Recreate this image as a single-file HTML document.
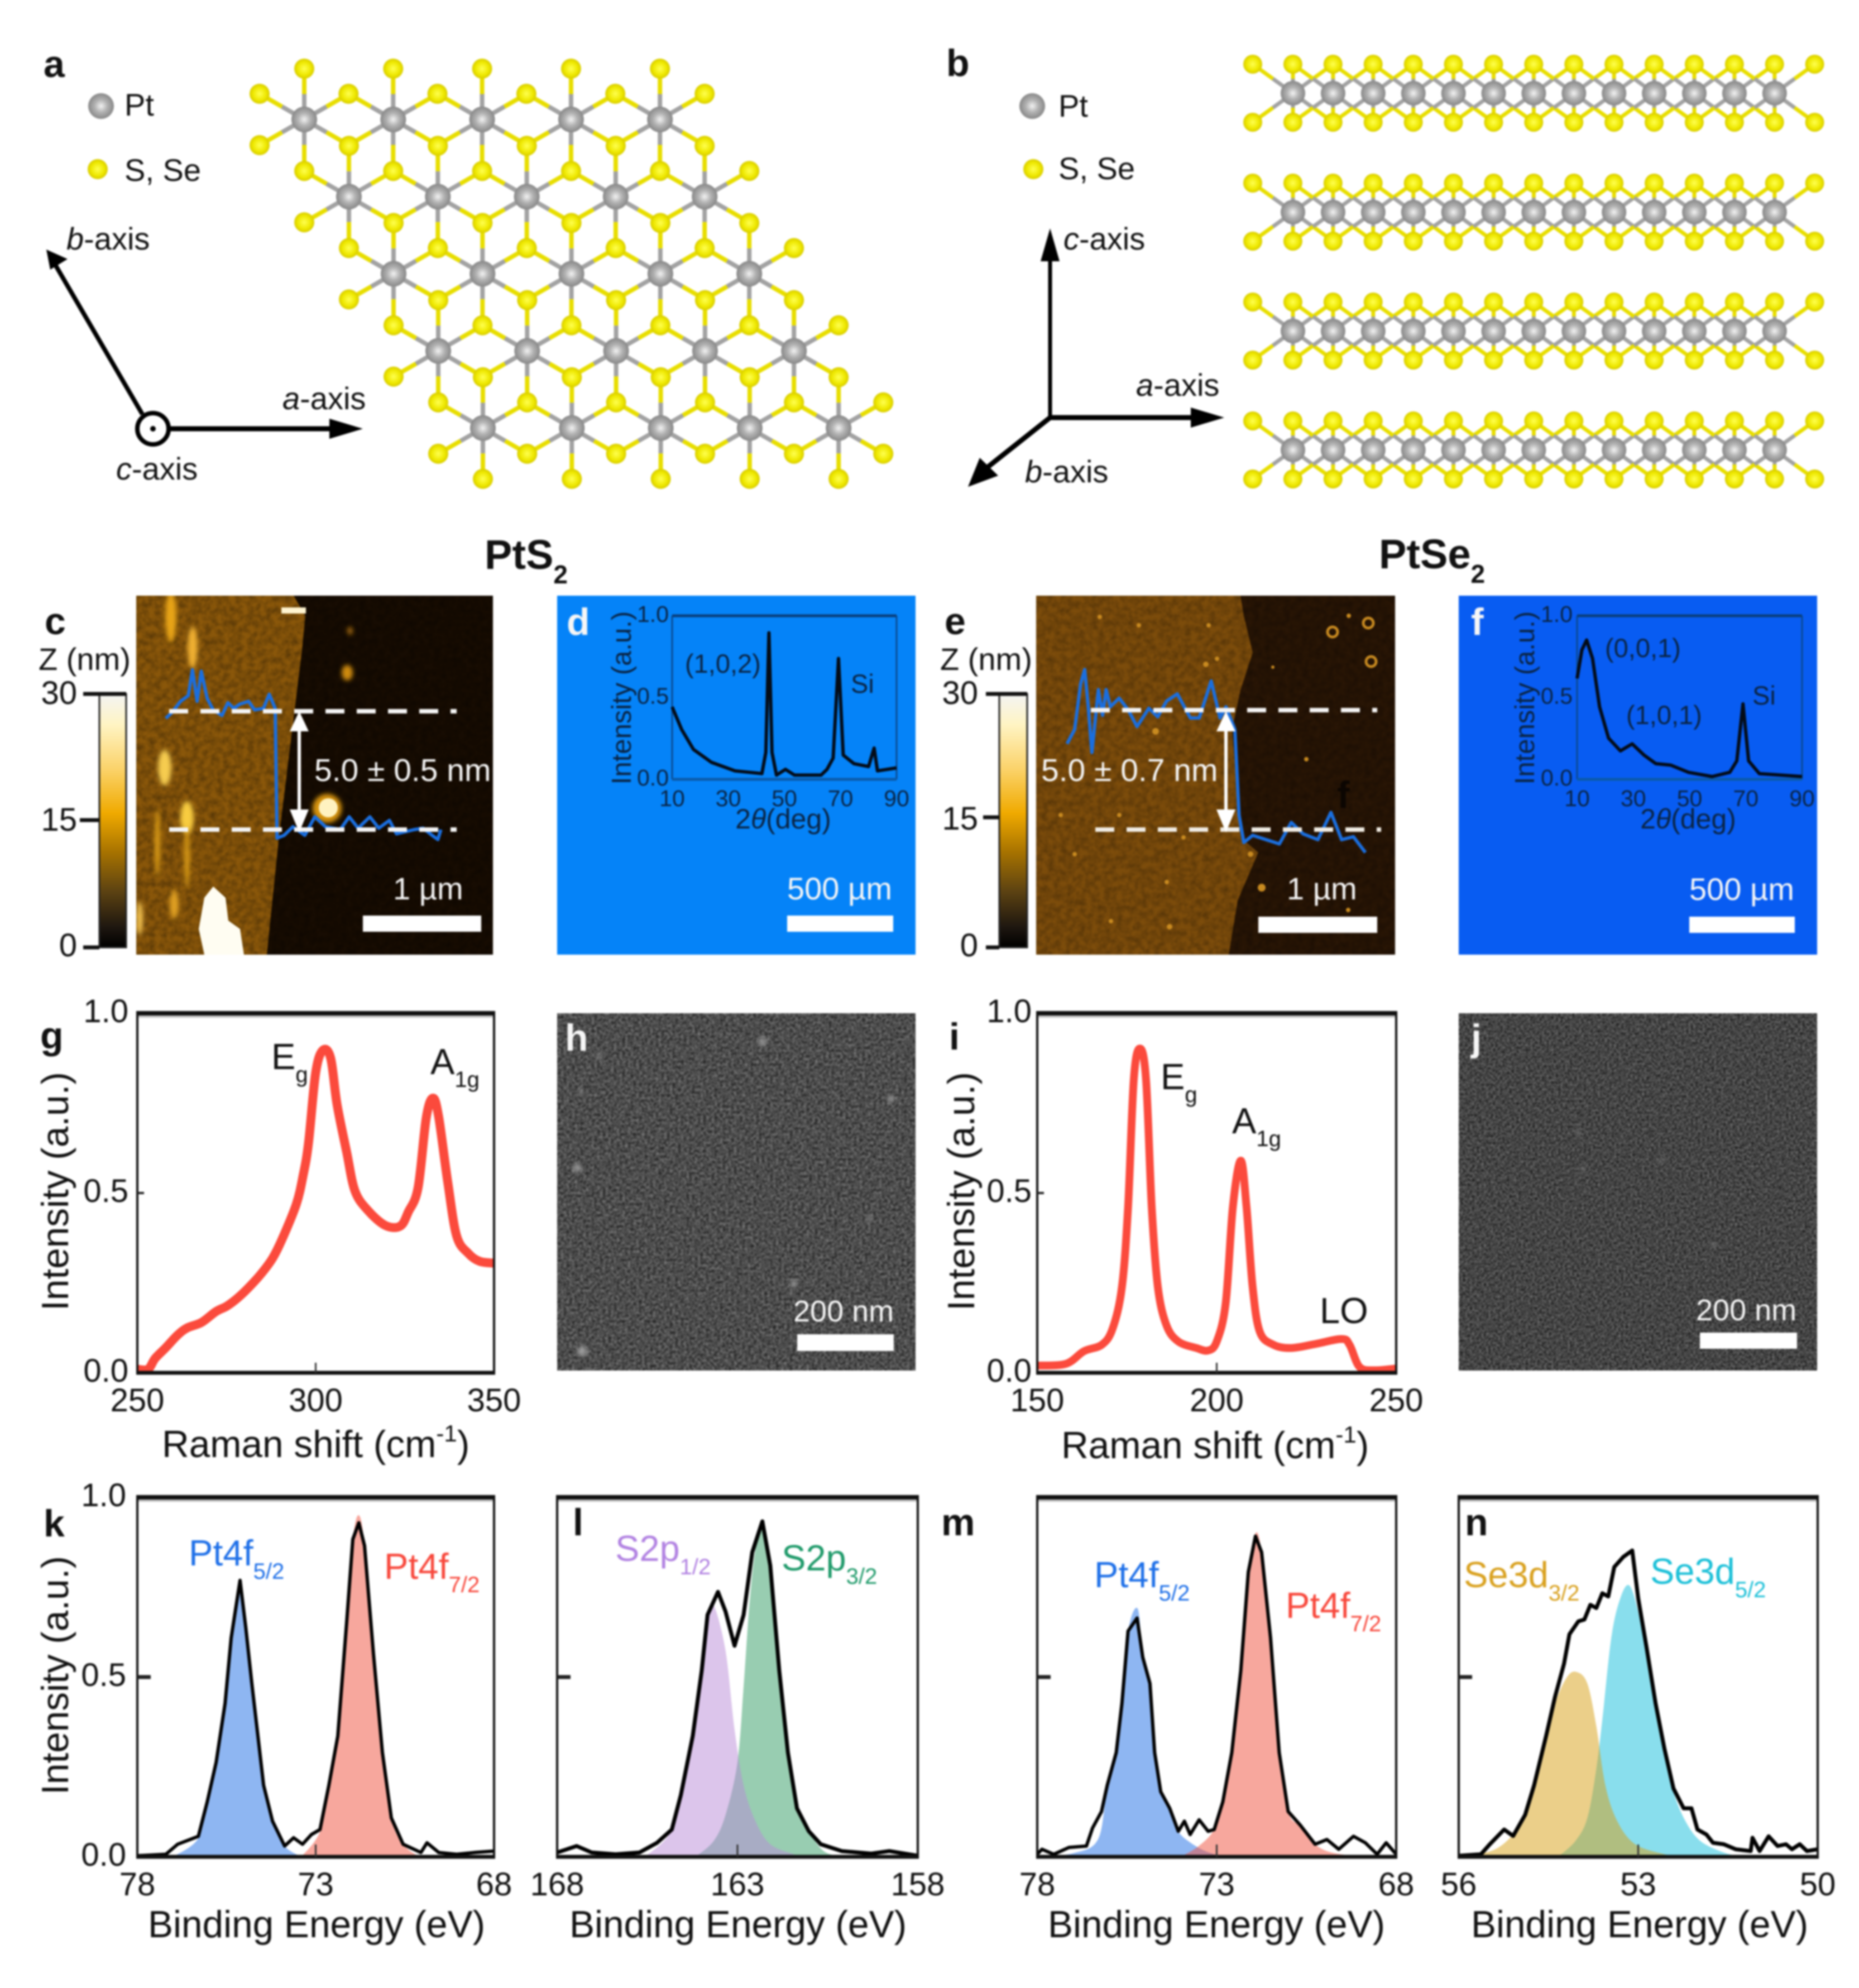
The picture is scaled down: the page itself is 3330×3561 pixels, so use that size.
<!DOCTYPE html>
<html lang="en">
<head>
<meta charset="utf-8">
<title>PtS2 and PtSe2 characterization</title>
<style>
html,body{margin:0;padding:0;background:#fff;}
#figure{display:block;width:3330px;height:3561px;filter:blur(1.6px);font-family:"Liberation Sans",sans-serif;fill:#111;}
.letter{font-weight:bold;font-size:68px;}
.head{font-weight:bold;font-size:74px;}
.lab{font-size:56px;}
.tick{font-size:58px;}
.title{font-size:67.5px;}
.peak{font-size:65px;}
.sub{font-size:40px;}
.white{fill:#f6f6f6;}
.inset{font-size:41px;fill:#0a2444;}
.inset2{font-size:47px;fill:#0a2444;}
</style>
</head>
<body>
<svg id="figure" width="3330" height="3561" viewBox="0 0 3330 3561">
<defs>
<radialGradient id="pt-grad" cx="50%" cy="50%" r="55%"><stop offset="0" stop-color="#f2f2f2"/><stop offset=".45" stop-color="#b2b2b2"/><stop offset="1" stop-color="#808080"/></radialGradient>
<radialGradient id="s-grad" cx="50%" cy="50%" r="55%"><stop offset="0" stop-color="#ffff50"/><stop offset=".6" stop-color="#eee800"/><stop offset="1" stop-color="#d2c400"/></radialGradient>
<linearGradient id="cbar-grad" x1="0" y1="0" x2="0" y2="1"><stop offset="0" stop-color="#f4f4f4"/><stop offset=".12" stop-color="#fff4c4"/><stop offset=".3" stop-color="#fbd268"/><stop offset=".47" stop-color="#f0aa00"/><stop offset=".62" stop-color="#a97400"/><stop offset=".78" stop-color="#5c4212"/><stop offset=".92" stop-color="#1e1710"/><stop offset="1" stop-color="#000"/></linearGradient>
<filter id="sem-noise" x="0" y="0" width="100%" height="100%" color-interpolation-filters="sRGB"><feTurbulence type="fractalNoise" baseFrequency="0.2" numOctaves="2" seed="4"/><feColorMatrix type="matrix" values=".5 0 0 0 .05  .5 0 0 0 .05  .5 0 0 0 .05  0 0 0 0 1"/></filter>
<filter id="sem-noise-dark" x="0" y="0" width="100%" height="100%" color-interpolation-filters="sRGB"><feTurbulence type="fractalNoise" baseFrequency="0.24" numOctaves="2" seed="9"/><feColorMatrix type="matrix" values=".5 0 0 0 .02  .5 0 0 0 .02  .5 0 0 0 .02  0 0 0 0 1"/></filter>
<filter id="afm-noise" x="0" y="0" width="100%" height="100%" color-interpolation-filters="sRGB"><feTurbulence type="fractalNoise" baseFrequency="0.09" numOctaves="3" seed="2"/><feColorMatrix type="matrix" values="0 0 0 0 0  0 0 0 0 0  0 0 0 0 0  1.6 0 0 0 -.5"/></filter>
<filter id="soft" x="-30%" y="-30%" width="160%" height="160%"><feGaussianBlur stdDeviation="4"/></filter>
<clipPath id="clip-c"><rect x="244" y="1067" width="639" height="643"/></clipPath>
<clipPath id="clip-e"><rect x="1856" y="1067" width="643" height="643"/></clipPath>
</defs>

<!-- Panel a -->
<g>
<text class="letter" x="78" y="138">a</text>
<circle cx="181" cy="190" r="23" fill="url(#pt-grad)"/>
<text class="lab" x="223" y="207">Pt</text>
<circle cx="175" cy="303" r="18" fill="url(#s-grad)"/>
<text class="lab" x="223" y="324">S, Se</text>
<g id="lattice-a"></g>
<g>
<line x1="255" y1="742" x2="100" y2="476" stroke="#000" stroke-width="8"/>
<polygon points="83,447 121,464 90,483" fill="#000"/>
<line x1="303" y1="768" x2="600" y2="768" stroke="#000" stroke-width="9"/>
<polygon points="650,768 590,750 590,786" fill="#000"/>
<circle cx="274" cy="768" r="28" fill="#fff" stroke="#000" stroke-width="8"/>
<circle cx="274" cy="768" r="5" fill="#000"/>
<text class="lab" x="119" y="447"><tspan font-style="italic">b</tspan>-axis</text>
<text class="lab" x="506" y="733"><tspan font-style="italic">a</tspan>-axis</text>
<text class="lab" x="208" y="859"><tspan font-style="italic">c</tspan>-axis</text>
</g>
</g>

<!-- Panel b -->
<g>
<text class="letter" x="1695" y="136">b</text>
<circle cx="1849" cy="190" r="23" fill="url(#pt-grad)"/>
<text class="lab" x="1896" y="209">Pt</text>
<circle cx="1851" cy="303" r="18" fill="url(#s-grad)"/>
<text class="lab" x="1896" y="321">S, Se</text>
<g id="lattice-b"></g>
<g>
<line x1="1881" y1="748" x2="1881" y2="450" stroke="#000" stroke-width="7"/>
<polygon points="1881,409 1864,468 1898,468" fill="#000"/>
<line x1="1881" y1="748" x2="2140" y2="748" stroke="#000" stroke-width="9"/>
<polygon points="2193,748 2133,730 2133,766" fill="#000"/>
<line x1="1881" y1="748" x2="1765" y2="840" stroke="#000" stroke-width="9"/>
<polygon points="1734,872 1755,820 1788,852" fill="#000"/>
<text class="lab" x="1905" y="447"><tspan font-style="italic">c</tspan>-axis</text>
<text class="lab" x="2035" y="709"><tspan font-style="italic">a</tspan>-axis</text>
<text class="lab" x="1836" y="864"><tspan font-style="italic">b</tspan>-axis</text>
</g>
</g>

<text class="head" x="868" y="1019">PtS<tspan font-size="46" dy="26">2</tspan></text>
<text class="head" x="2470" y="1018">PtSe<tspan font-size="46" dy="26">2</tspan></text>

<!-- Panel c -->
<g>
<text class="letter" x="80" y="1136">c</text>
<text class="lab" x="69" y="1200">Z (nm)</text>
<rect x="178" y="1243" width="48" height="454" fill="url(#cbar-grad)" stroke="#222" stroke-width="3"/>
<path d="M149 1243H226M143 1469H178M149 1697H178" stroke="#111" stroke-width="7" fill="none"/>
<text class="tick" text-anchor="end" x="138" y="1261">30</text>
<text class="tick" text-anchor="end" x="138" y="1488">15</text>
<text class="tick" text-anchor="end" x="138" y="1713">0</text>
<g clip-path="url(#clip-c)">
<rect x="244" y="1067" width="639" height="643" fill="#170c02"/>
<polygon points="244,1067 526,1067 547,1103 541,1164 499,1506 478,1710 244,1710" fill="#8a570a"/>
<rect x="244" y="1067" width="639" height="643" filter="url(#afm-noise)" opacity=".35"/>
<g filter="url(#soft)">
<ellipse cx="306" cy="1105" rx="10" ry="45" fill="#e8a418"/>
<ellipse cx="345" cy="1160" rx="9" ry="38" fill="#f0b030"/>
<ellipse cx="295" cy="1375" rx="12" ry="32" fill="#f6cc50"/>
<ellipse cx="335" cy="1465" rx="12" ry="30" fill="#f8cc40"/>
<ellipse cx="282" cy="1510" rx="5" ry="60" fill="#d89a18"/>
<ellipse cx="335" cy="1535" rx="5" ry="55" fill="#d89a18"/>
<ellipse cx="312" cy="1620" rx="8" ry="26" fill="#e0a020"/>
<ellipse cx="250" cy="1645" rx="6" ry="30" fill="#f0c050"/>
<ellipse cx="622" cy="1205" rx="10" ry="14" fill="#d08c10"/>
<ellipse cx="627" cy="1130" rx="5" ry="7" fill="#a06808"/>
<ellipse cx="586" cy="1448" rx="26" ry="26" fill="#d89410"/>
</g>
<rect x="504" y="1088" width="44" height="11" fill="#fff4d0"/>
<polygon points="382,1588 404,1608 409,1649 430,1664 437,1710 366,1710 356,1664 366,1608" fill="#fffdf2"/>
<ellipse cx="588" cy="1447" rx="17" ry="17" fill="#fff2c0"/>
</g>
<g id="plot-c-profile"></g>
<line x1="303" y1="1274" x2="818" y2="1274" stroke="#f4f4f4" stroke-width="8" stroke-dasharray="34 22"/>
<line x1="303" y1="1486" x2="818" y2="1486" stroke="#f4f4f4" stroke-width="8" stroke-dasharray="34 22"/>
<line x1="536" y1="1290" x2="536" y2="1470" stroke="#fff" stroke-width="6"/>
<polygon points="536,1274 519,1310 553,1310" fill="#fff"/>
<polygon points="536,1491 519,1450 553,1450" fill="#fff"/>
<text class="white" font-size="57" x="563" y="1399">5.0 ± 0.5 nm</text>
<text class="white lab" x="704" y="1611">1 µm</text>
<rect x="650" y="1640" width="212" height="29" fill="#fff"/>
</g>

<!-- Panel d -->
<g>
<rect x="998" y="1067" width="642" height="643" fill="#0583f8"/>
<text class="letter white" x="1015" y="1137">d</text>
<g id="plot-d"></g>
<text class="inset2" x="1227" y="1205">(1,0,2)</text>
<text class="inset2" x="1524" y="1241">Si</text>
<text class="inset" style="font-size:50px" text-anchor="middle" x="1403" y="1484">2<tspan font-style="italic">θ</tspan>(deg)</text>
<text class="inset" style="font-size:49px" text-anchor="middle" transform="translate(1130,1250) rotate(-90)">Intensity (a.u.)</text>
<text class="white lab" x="1410" y="1611">500 µm</text>
<rect x="1410" y="1640" width="190" height="29" fill="#fff"/>
</g>

<!-- Panel e -->
<g>
<text class="letter" x="1692" y="1136">e</text>
<text class="lab" x="1684" y="1200">Z (nm)</text>
<rect x="1790" y="1243" width="50" height="454" fill="url(#cbar-grad)" stroke="#222" stroke-width="3"/>
<path d="M1766 1243H1840M1761 1464H1790M1766 1697H1790" stroke="#111" stroke-width="7" fill="none"/>
<text class="tick" text-anchor="end" x="1752" y="1261">30</text>
<text class="tick" text-anchor="end" x="1752" y="1486">15</text>
<text class="tick" text-anchor="end" x="1752" y="1713">0</text>
<g clip-path="url(#clip-e)">
<rect x="1856" y="1067" width="643" height="643" fill="#281505"/>
<polygon points="1856,1067 2222,1067 2228,1103 2244,1169 2222,1236 2207,1307 2223,1501 2254,1527 2217,1613 2201,1710 1856,1710" fill="#7c4c0b"/>
<rect x="1856" y="1067" width="643" height="643" filter="url(#afm-noise)" opacity=".3"/>
<g fill="#c88a20">
<circle cx="1970" cy="1105" r="4"/><circle cx="2040" cy="1120" r="4"/><circle cx="2165" cy="1120" r="4"/><circle cx="2160" cy="1190" r="5"/><circle cx="2070" cy="1310" r="6"/><circle cx="2180" cy="1180" r="4"/><circle cx="1900" cy="1460" r="4"/><circle cx="2005" cy="1460" r="4"/><circle cx="2120" cy="1500" r="4"/><circle cx="2240" cy="1530" r="5"/><circle cx="1925" cy="1530" r="4"/><circle cx="2090" cy="1580" r="4"/><circle cx="1990" cy="1650" r="4"/><circle cx="2095" cy="1660" r="5"/><circle cx="2260" cy="1590" r="7"/><circle cx="2416" cy="1103" r="4"/><circle cx="2340" cy="1360" r="4"/><circle cx="2415" cy="1630" r="4"/><circle cx="2280" cy="1195" r="3"/>
</g>
<g fill="none" stroke="#c88a20" stroke-width="5">
<circle cx="2451" cy="1116" r="9"/><circle cx="2387" cy="1132" r="9"/><circle cx="2456" cy="1185" r="9"/>
</g>
<text class="letter" x="2395" y="1447" style="fill:#0c0602">f</text>
</g>
<g id="plot-e-profile"></g>
<line x1="1954" y1="1272" x2="2467" y2="1272" stroke="#f4f4f4" stroke-width="8" stroke-dasharray="34 22"/>
<line x1="1962" y1="1486" x2="2474" y2="1486" stroke="#f0ece4" stroke-width="8" stroke-dasharray="34 22"/>
<line x1="2196" y1="1290" x2="2196" y2="1470" stroke="#fff" stroke-width="6"/>
<polygon points="2196,1274 2179,1310 2213,1310" fill="#fff"/>
<polygon points="2196,1491 2179,1450 2213,1450" fill="#fff"/>
<text class="white" font-size="57" x="1865" y="1399">5.0 ± 0.7 nm</text>
<text class="white lab" x="2305" y="1611">1 µm</text>
<rect x="2254" y="1642" width="213" height="29" fill="#fff"/>
</g>

<!-- Panel f -->
<g>
<rect x="2613" y="1067" width="642" height="643" fill="#085cf2"/>
<text class="letter white" x="2635" y="1137">f</text>
<g id="plot-f"></g>
<text class="inset2" x="2875" y="1177">(0,0,1)</text>
<text class="inset2" x="2913" y="1297">(1,0,1)</text>
<text class="inset2" x="3139" y="1262">Si</text>
<text class="inset" style="font-size:50px" text-anchor="middle" x="3024" y="1484">2<tspan font-style="italic">θ</tspan>(deg)</text>
<text class="inset" style="font-size:49px" text-anchor="middle" transform="translate(2748,1250) rotate(-90)">Intensity (a.u.)</text>
<text class="white lab" x="3026" y="1612">500 µm</text>
<rect x="3026" y="1642" width="189" height="29" fill="#fff"/>
</g>

<!-- Panel g -->
<g>
<text class="letter" x="72" y="1878">g</text>
<g id="plot-g"></g>
<text class="peak" x="486" y="1915">E<tspan class="sub" dy="23">g</tspan></text>
<text class="peak" x="771" y="1924">A<tspan class="sub" dy="23">1g</tspan></text>
<text class="title" text-anchor="middle" transform="translate(122,2134) rotate(-90)">Intensity (a.u.)</text>
<text class="title" x="290" y="2610">Raman shift (cm<tspan font-size="42" dy="-28">-1</tspan><tspan dy="28">)</tspan></text>
</g>

<!-- Panel h -->
<g>
<rect x="998" y="1815" width="642" height="640" filter="url(#sem-noise)"/>
<g fill="#9c9c9c" filter="url(#soft)">
<circle cx="1366" cy="1866" r="7"/><circle cx="1043" cy="2420" r="9"/><circle cx="1422" cy="2300" r="6"/><circle cx="1034" cy="2092" r="7"/><circle cx="1597" cy="1968" r="6"/><circle cx="1072" cy="1893" r="4"/><circle cx="1040" cy="1955" r="4"/><circle cx="1557" cy="2185" r="4"/>
</g>
<text class="letter white" x="1012" y="1882">h</text>
<text class="white" font-size="54" x="1421" y="2367">200 nm</text>
<rect x="1428" y="2390" width="173" height="30" fill="#fff"/>
</g>

<!-- Panel i -->
<g>
<text class="letter" x="1700" y="1880">i</text>
<g id="plot-i"></g>
<text class="peak" x="2079" y="1951">E<tspan class="sub" dy="23">g</tspan></text>
<text class="peak" x="2207" y="2030">A<tspan class="sub" dy="23">1g</tspan></text>
<text class="peak" x="2364" y="2370">LO</text>
<text class="title" text-anchor="middle" transform="translate(1745,2134) rotate(-90)">Intensity (a.u.)</text>
<text class="title" x="1901" y="2612">Raman shift (cm<tspan font-size="42" dy="-28">-1</tspan><tspan dy="28">)</tspan></text>
</g>

<!-- Panel j -->
<g>
<rect x="2613" y="1815" width="642" height="640" filter="url(#sem-noise-dark)"/>
<g fill="#7c7c7c" filter="url(#soft)">
<circle cx="2827" cy="2027" r="4"/><circle cx="2835" cy="2095" r="4"/><circle cx="2975" cy="2078" r="4"/><circle cx="3070" cy="2230" r="4"/>
</g>
<text class="letter white" x="2635" y="1882">j</text>
<text class="white" font-size="54" x="3038" y="2365">200 nm</text>
<rect x="3045" y="2387" width="174" height="29" fill="#fff"/>
</g>

<!-- Panel k -->
<g>
<text class="letter" x="78" y="2752">k</text>
<g id="plot-k"></g>
<text class="peak" x="338" y="2804" style="fill:#1f70e8">Pt4f<tspan class="sub" dy="24">5/2</tspan></text>
<text class="peak" x="688" y="2828" style="fill:#f8483c">Pt4f<tspan class="sub" dy="24">7/2</tspan></text>
<text class="title" text-anchor="middle" transform="translate(122,3001) rotate(-90)">Intensity (a.u.)</text>
<text class="title" x="265" y="3470">Binding Energy (eV)</text>
</g>

<!-- Panel l -->
<g>
<text class="letter" x="1026" y="2750">l</text>
<g id="plot-l"></g>
<text class="peak" x="1102" y="2796" style="fill:#b283e2">S2p<tspan class="sub" dy="24">1/2</tspan></text>
<text class="peak" x="1400" y="2813" style="fill:#1f9a6a">S2p<tspan class="sub" dy="24">3/2</tspan></text>
<text class="title" x="1020" y="3470">Binding Energy (eV)</text>
</g>

<!-- Panel m -->
<g>
<text class="letter" x="1686" y="2750">m</text>
<g id="plot-m"></g>
<text class="peak" x="1960" y="2843" style="fill:#1f70e8">Pt4f<tspan class="sub" dy="24">5/2</tspan></text>
<text class="peak" x="2303" y="2898" style="fill:#f8483c">Pt4f<tspan class="sub" dy="24">7/2</tspan></text>
<text class="title" x="1877" y="3470">Binding Energy (eV)</text>
</g>

<!-- Panel n -->
<g>
<text class="letter" x="2624" y="2750">n</text>
<g id="plot-n"></g>
<text class="peak" x="2622" y="2843" style="fill:#d9a11f">Se3d<tspan class="sub" dy="24">3/2</tspan></text>
<text class="peak" x="2956" y="2837" style="fill:#1cc0d8">Se3d<tspan class="sub" dy="24">5/2</tspan></text>
<text class="title" x="2635" y="3470">Binding Energy (eV)</text>
</g>
</svg>

<script>
// Raman PtS2 (panel g)
const ramanPtS2Shift = [250,253,255,258,261.3,264,268,272,275,278,281,284.6,288,291,294.6,296.5,298,300,302,304.2,306,308.7,311,314.6,319.5,323.7,326,328.7,331,332.9,334.5,337,339.5,342.8,346,350];
const ramanPtS2Intensity = [0.01,0.01,0.04,0.07,0.105,0.125,0.14,0.17,0.185,0.207,0.235,0.274,0.32,0.381,0.47,0.55,0.64,0.835,0.897,0.875,0.746,0.613,0.506,0.452,0.41,0.408,0.448,0.515,0.71,0.764,0.71,0.532,0.381,0.332,0.31,0.305];
const ramanPtS2XTicks = [250,300,350];

// Raman PtSe2 (panel i)
const ramanPtSe2Shift = [150,158,163,168,171,173.6,175.3,176.9,178.6,180.3,181.9,183.6,186,189.3,194.3,197.6,200,202.5,204.5,206.7,208.3,210,212,215.8,220.7,227.4,234.8,237,239.8,244,250];
const ramanPtSe2Intensity = [0.02,0.025,0.06,0.078,0.123,0.239,0.461,0.817,0.902,0.817,0.46,0.239,0.132,0.087,0.069,0.062,0.087,0.194,0.461,0.59,0.461,0.239,0.114,0.078,0.069,0.08,0.094,0.078,0.016,0.007,0.012];
const ramanPtSe2XTicks = [150,200,250];

const intensityTicks = [0,0.5,1];
const intensityLabels = ["0.0","0.5","1.0"];

// XPS Pt4f in PtS2 (panel k)
const xpsKEnergy = [78,77.2,76.87,76.29,76.04,75.79,75.54,75.37,75.12,74.96,74.79,74.62,74.46,74.21,73.87,73.62,73.37,73.12,72.88,72.63,72.38,72.13,71.96,71.79,71.63,71.38,71.13,70.88,70.55,70.05,69.88,69.55,69.05,68.55,68];
const xpsKTotal = [0.003,0.007,0.035,0.057,0.153,0.263,0.427,0.609,0.769,0.637,0.482,0.336,0.199,0.099,0.03,0.053,0.035,0.062,0.076,0.199,0.336,0.655,0.883,0.929,0.865,0.564,0.29,0.108,0.035,0.012,0.039,0.012,0.007,0.012,0.016];
const xpsKPeak52Energy = [77,76.3,76.04,75.79,75.54,75.37,75.12,74.96,74.79,74.62,74.46,74.21,73.87,73.4];
const xpsKPeak52 = [0,0.05,0.153,0.263,0.427,0.609,0.769,0.637,0.482,0.336,0.199,0.099,0.03,0];
const xpsKPeak72Energy = [73.4,72.88,72.63,72.38,72.13,71.96,71.79,71.63,71.38,71.13,70.88,70.55,70.1];
const xpsKPeak72 = [0,0.07,0.199,0.336,0.655,0.883,0.95,0.865,0.564,0.29,0.108,0.035,0];
const xpsKXTicks = [78,73,68];

// XPS S2p (panel l)
const xpsLEnergy = [168,167.46,167.04,166.38,165.72,165.23,164.82,164.57,164.24,163.99,163.83,163.54,163.33,163.08,162.83,162.59,162.31,162.09,161.84,161.6,161.35,161.02,160.69,160.11,159.29,158.79,158];
const xpsLTotal = [0.012,0.03,0.012,0.007,0.012,0.039,0.076,0.172,0.336,0.518,0.673,0.737,0.682,0.587,0.673,0.847,0.933,0.81,0.518,0.29,0.135,0.071,0.035,0.016,0.009,0.016,0.003];
const xpsLPeak12Energy = [165.56,164.9,164.57,164.24,163.99,163.83,163.66,163.33,163.08,162.83,162.5,162.09,161.43];
const xpsLPeak12 = [0,0.062,0.167,0.327,0.509,0.664,0.7,0.573,0.354,0.199,0.099,0.035,0.007];
const xpsLPeak32Energy = [164.16,163.66,163.33,163,162.83,162.67,162.5,162.31,162.09,161.84,161.6,161.35,161.02,160.61,160.11];
const xpsLPeak32 = [0,0.044,0.117,0.263,0.473,0.7,0.856,0.91,0.81,0.518,0.29,0.135,0.071,0.016,0];
const xpsLXTicks = [168,163,158];

// XPS Pt4f in PtSe2 (panel m)
const xpsMEnergy = [78,77.87,77.54,77.12,76.63,76.46,76.21,76.05,75.8,75.64,75.47,75.22,75.06,74.86,74.73,74.56,74.31,74.07,73.9,73.74,73.49,73.24,73.07,72.83,72.58,72.33,72.12,71.92,71.75,71.5,71.26,71.01,70.68,70.26,69.93,69.6,69.19,68.86,68.53,68.28,68];
const xpsMTotal = [0.007,0.021,0.007,0.026,0.03,0.08,0.126,0.199,0.29,0.427,0.628,0.664,0.555,0.482,0.29,0.181,0.135,0.071,0.099,0.062,0.103,0.071,0.076,0.153,0.29,0.518,0.792,0.892,0.847,0.609,0.29,0.126,0.089,0.035,0.048,0.021,0.057,0.039,0.007,0.039,0.007];
const xpsMPeak52Energy = [78,77,76.3,76.05,75.8,75.64,75.47,75.2,75.06,74.86,74.73,74.56,74.31,74.07,73.74,73.3,72.8];
const xpsMPeak52 = [0,0.01,0.05,0.2,0.29,0.427,0.628,0.69,0.555,0.482,0.29,0.181,0.125,0.07,0.04,0.015,0];
const xpsMPeak72Energy = [74,73.5,73.07,72.83,72.58,72.33,72.12,71.92,71.75,71.5,71.26,71.01,70.68,70.26,69.8,69];
const xpsMPeak72 = [0,0.03,0.076,0.153,0.29,0.518,0.792,0.9,0.847,0.609,0.29,0.126,0.085,0.035,0.012,0];
const xpsMXTicks = [78,73,68];

// XPS Se3d (panel n)
const xpsNEnergy = [56,55.63,55.48,55.24,55.09,54.89,54.74,54.54,54.39,54.24,54.15,54,53.9,53.8,53.7,53.6,53.5,53.4,53.25,53.1,53,52.86,52.71,52.56,52.41,52.24,52.11,52.01,51.86,51.75,51.57,51.37,51.12,51.09,50.97,50.82,50.67,50.53,50.43,50.3,50.18,50];
const xpsNTotal = [0.003,0.007,0.035,0.076,0.058,0.117,0.199,0.336,0.445,0.537,0.619,0.655,0.66,0.701,0.692,0.733,0.724,0.806,0.834,0.852,0.719,0.582,0.427,0.299,0.19,0.135,0.135,0.076,0.062,0.039,0.035,0.021,0.016,0.053,0.016,0.057,0.03,0.035,0.021,0.035,0.016,0.021];
const xpsNPeak32Energy = [56,55.43,55.09,54.89,54.74,54.54,54.39,54.19,54.03,53.85,53.7,53.55,53.35,53.05,52.56,52.3];
const xpsNPeak32 = [0,0.018,0.062,0.112,0.193,0.327,0.427,0.5,0.514,0.482,0.363,0.199,0.099,0.035,0.007,0];
const xpsNPeak52Energy = [54.34,54.05,53.85,53.7,53.6,53.45,53.3,53.15,53,52.86,52.71,52.56,52.41,52.21,51.96,51.57,51.27];
const xpsNPeak52 = [0,0.044,0.108,0.245,0.381,0.609,0.719,0.755,0.682,0.555,0.41,0.29,0.18,0.099,0.044,0.012,0];
const xpsNXTicks = [56,53,50];

// XRD insets (panels d, f)
const xrdDAngle = [10,13.4,17.6,24,32.4,42,43.4,44.5,45.6,47.2,50.4,53.6,63.1,65.2,67.4,69.3,71,74.8,80,82,83.2,90];
const xrdDIntensity = [0.443,0.304,0.183,0.104,0.052,0.035,0.165,0.896,0.165,0.026,0.061,0.026,0.026,0.061,0.13,0.739,0.148,0.096,0.078,0.191,0.052,0.07];
const xrdFAngle = [10,11.7,13.4,15.5,18,21.2,25.4,29.6,33.8,38,43.3,49.6,58,64.3,66.8,69,71,74.8,90];
const xrdFIntensity = [0.617,0.791,0.852,0.739,0.443,0.252,0.174,0.217,0.148,0.096,0.087,0.043,0.017,0.043,0.113,0.461,0.113,0.035,0.017];
const xrdXTicks = [10,30,50,70,90];

// AFM height profiles (panels c, e): position in micrometres, height in nm above the lower level
const profileCPosition = [0.249,0.299,0.373,0.438,0.473,0.512,0.547,0.597,0.647,0.721,0.771,0.821,0.871,0.945,0.995,1.07,1.119,1.169,1.184,1.244,1.318,1.418,1.502,1.592,1.716,1.791,1.866,1.965,2.04,2.129,2.189,2.338,2.413,2.488,2.537,2.562];
const profileCHeight = [4.7,4.94,5.42,5.66,6.75,5.42,6.69,5.54,5.06,4.82,5.36,5.12,5.3,5.42,5.06,5.12,5.72,5.12,-0.36,-0.24,0.12,-0.24,0.54,0.12,0,0.54,0.06,0.54,0.06,0.39,-0.18,0,0.06,-0.24,-0.42,0];
const profileEPosition = [0.258,0.322,0.372,0.406,0.436,0.466,0.52,0.555,0.585,0.62,0.694,0.768,0.843,0.942,1.016,1.091,1.18,1.289,1.363,1.463,1.537,1.587,1.661,1.696,1.736,1.81,2.033,2.132,2.231,2.355,2.464,2.553,2.652,2.752];
const profileEHeight = [3.59,4.19,6.1,6.7,5.14,3.23,5.86,4.78,5.86,5.14,5.5,5.02,4.31,5.08,4.72,5.38,5.68,4.67,4.67,6.22,4.67,5.14,4.19,0.6,-0.54,-0.24,-0.6,0.3,-0.18,-0.42,0.72,-0.42,-0.3,-0.96];

const svgRoot = document.getElementById('figure');

function linear(d0, d1, r0, r1) {
  return function (v) { return r0 + (v - d0) / (d1 - d0) * (r1 - r0); };
}
function add(parent, tag, attrs, text) {
  const el = document.createElementNS(svgRoot.namespaceURI, tag);
  for (const k in attrs) el.setAttribute(k, attrs[k]);
  if (text !== undefined) el.textContent = text;
  parent.appendChild(el);
  return el;
}
function pathFrom(xs, ys, sx, sy) {
  return xs.map(function (x, i) {
    return (i ? 'L' : 'M') + sx(x).toFixed(1) + ' ' + sy(ys[i]).toFixed(1);
  }).join('');
}
function smoothFrom(xs, ys, sx, sy) {
  const n = xs.length;
  const px = xs.map(sx), py = ys.map(sy);
  let d = 'M' + px[0].toFixed(1) + ' ' + py[0].toFixed(1);
  for (let i = 0; i < n - 1; i++) {
    const a = Math.max(i - 1, 0), b = Math.min(i + 2, n - 1);
    const c1x = px[i] + (px[i + 1] - px[a]) / 6, c1y = py[i] + (py[i + 1] - py[a]) / 6;
    const c2x = px[i + 1] - (px[b] - px[i]) / 6, c2y = py[i + 1] - (py[b] - py[i]) / 6;
    d += 'C' + c1x.toFixed(1) + ' ' + c1y.toFixed(1) + ' ' + c2x.toFixed(1) + ' ' + c2y.toFixed(1) + ' ' + px[i + 1].toFixed(1) + ' ' + py[i + 1].toFixed(1);
  }
  return d;
}
function drawLine(parent, name, xs, ys, sx, sy, stroke, width, smooth) {
  const d = smooth ? smoothFrom(xs, ys, sx, sy) : pathFrom(xs, ys, sx, sy);
  const el = add(parent, 'path', {d: d, fill: 'none', stroke: stroke, 'stroke-width': width, 'stroke-linejoin': 'round', 'stroke-linecap': 'butt'});
  
  
}
function drawArea(parent, name, xs, ys, sx, sy, fill, opacity) {
  const base = sy(0).toFixed(1);
  const d = 'M' + sx(xs[0]).toFixed(1) + ' ' + base + smoothFrom(xs, ys, sx, sy).replace('M', 'L') + 'L' + sx(xs[xs.length - 1]).toFixed(1) + ' ' + base + 'Z';
  const el = add(parent, 'path', {d: d, fill: fill, 'fill-opacity': opacity});
  
  
}
function drawFrame(parent, left, top, right, bottom, color, sideW, topW, botW) {
  const halo = add(parent, 'path', {d: 'M' + left + ' ' + (top + 3) + 'H' + right, stroke: '#c4c4c4', 'stroke-width': topW + 2, fill: 'none'});
  
  
  const frame = add(parent, 'path', {d: 'M' + left + ' ' + top + 'V' + bottom + 'M' + right + ' ' + top + 'V' + bottom, stroke: color, 'stroke-width': sideW, fill: 'none'});
  
  
  const topLine = add(parent, 'path', {d: 'M' + (left - 2) + ' ' + top + 'H' + (right + 2), stroke: color, 'stroke-width': topW, fill: 'none'});
  
  
  const botLine = add(parent, 'path', {d: 'M' + (left - 2) + ' ' + bottom + 'H' + (right + 2), stroke: color, 'stroke-width': botW, fill: 'none'});
  
  
}
function drawAxes(parent, sx, sy, left, right, bottom, xTicks, yLabelsShown, yLabelX, xTickLen, yTickLen, yTickW) {
  xTicks.forEach(function (t, i) {
    const lab = add(parent, 'text', {class: 'tick', 'text-anchor': 'middle', x: sx(t), y: bottom + 69}, String(t));
    
    
    if (i === 1) {
      const tk = add(parent, 'line', {x1: sx(t), x2: sx(t), y1: bottom, y2: bottom - xTickLen, stroke: '#333', 'stroke-width': 3});
      
      
    }
  });
  intensityTicks.forEach(function (t, i) {
    if (i === 1) {
      const tk = add(parent, 'line', {x1: left, x2: left + yTickLen, y1: sy(t), y2: sy(t), stroke: '#222', 'stroke-width': yTickW});
      
      
    }
    if (yLabelsShown) {
      const lab = add(parent, 'text', {class: 'tick', 'text-anchor': 'end', x: yLabelX, y: sy(t) + 16}, intensityLabels[i]);
      
      
    }
  });
}
function ramanChart(id, xs, ys, xTicks, left, right, labelX, width) {
  const g = document.getElementById(id), top = 1815, bottom = 2459;
  const sx = linear(xTicks[0], xTicks[2], left, right);
  const sy = linear(0, 1, bottom, top);
  drawLine(g, 'raman-spectrum', xs, ys, sx, sy, '#fb4a3c', width, true);
  drawFrame(g, left, top, right, bottom, '#111', 4, 8, 7);
  drawAxes(g, sx, sy, left, right, bottom, xTicks, true, labelX, 18, 12, 4);
}
function xpsChart(id, xTicks, left, right, showLabels, draw) {
  const g = document.getElementById(id), top = 2682, bottom = 3326;
  const sx = linear(xTicks[0], xTicks[2], left, right);
  const sy = linear(0, 1, bottom, top);
  draw(g, sx, sy);
  drawFrame(g, left, top, right, bottom, '#111', 4, 8, 7);
  drawAxes(g, sx, sy, left, right, bottom, xTicks, showLabels, 226, 22, 24, 7);
}
function insetChart(id, xs, ys, left, right, labelX) {
  const g = document.getElementById(id), top = 1103, bottom = 1396;
  const sx = linear(10, 90, left, right);
  const sy = linear(0, 1, bottom, top);
  const sides = add(g, 'path', {d: 'M' + left + ' ' + top + 'V' + bottom + 'M' + right + ' ' + top + 'V' + bottom, stroke: '#0b4a90', 'stroke-width': 3, fill: 'none'});
  
  
  const topLine = add(g, 'path', {d: 'M' + left + ' ' + top + 'H' + right, stroke: '#0a3f7c', 'stroke-width': 5, fill: 'none'});
  
  
  const botLine = add(g, 'path', {d: 'M' + left + ' ' + bottom + 'H' + right, stroke: '#0b5aa8', 'stroke-width': 5, fill: 'none'});
  
  
  drawLine(g, 'xrd-pattern', xs, ys, sx, sy, '#040c18', 6, false);
  xrdXTicks.forEach(function (t) {
    const lab = add(g, 'text', {class: 'inset', 'text-anchor': 'middle', x: sx(t), y: bottom + 48}, String(t));
    
    
  });
  intensityTicks.forEach(function (t, i) {
    const lab = add(g, 'text', {class: 'inset', 'text-anchor': 'end', x: labelX, y: sy(t) + 11}, intensityLabels[i]);
    
    
  });
}
function profile(id, xs, ys, left, right, upperY, lowerY) {
  const sx = linear(0, 3, left, right);
  const sy = linear(0, 5, lowerY, upperY);
  drawLine(document.getElementById(id), 'afm-height-trace', xs, ys, sx, sy, '#1a6ede', 6, false);
}

ramanChart('plot-g', ramanPtS2Shift, ramanPtS2Intensity, ramanPtS2XTicks, 246, 885, 230, 16);
ramanChart('plot-i', ramanPtSe2Shift, ramanPtSe2Intensity, ramanPtSe2XTicks, 1858, 2501, 1848, 14);

xpsChart('plot-k', xpsKXTicks, 246, 885, true, function (g, sx, sy) {
  drawArea(g, 'peak-fill-pt4f52', xpsKPeak52Energy, xpsKPeak52, sx, sy, '#1e6ee6', 0.5);
  drawArea(g, 'peak-fill-pt4f72', xpsKPeak72Energy, xpsKPeak72, sx, sy, '#f0503c', 0.5);
  drawLine(g, 'xps-spectrum', xpsKEnergy, xpsKTotal, sx, sy, '#000', 6, false);
});
xpsChart('plot-l', xpsLXTicks, 998, 1644, false, function (g, sx, sy) {
  drawArea(g, 'peak-fill-s2p32', xpsLPeak32Energy, xpsLPeak32, sx, sy, '#329b64', 0.5);
  drawArea(g, 'peak-fill-s2p12', xpsLPeak12Energy, xpsLPeak12, sx, sy, '#b98cd7', 0.5);
  drawLine(g, 'xps-spectrum', xpsLEnergy, xpsLTotal, sx, sy, '#000', 7, false);
});
xpsChart('plot-m', xpsMXTicks, 1858, 2501, false, function (g, sx, sy) {
  drawArea(g, 'peak-fill-pt4f52', xpsMPeak52Energy, xpsMPeak52, sx, sy, '#1e6ee6', 0.5);
  drawArea(g, 'peak-fill-pt4f72', xpsMPeak72Energy, xpsMPeak72, sx, sy, '#f0503c', 0.5);
  drawLine(g, 'xps-spectrum', xpsMEnergy, xpsMTotal, sx, sy, '#000', 6, false);
});
xpsChart('plot-n', xpsNXTicks, 2613, 3256, false, function (g, sx, sy) {
  drawArea(g, 'peak-fill-se3d52', xpsNPeak52Energy, xpsNPeak52, sx, sy, '#14bedc', 0.5);
  drawArea(g, 'peak-fill-se3d32', xpsNPeak32Energy, xpsNPeak32, sx, sy, '#d7a014', 0.5);
  drawLine(g, 'xps-spectrum', xpsNEnergy, xpsNTotal, sx, sy, '#000', 7, false);
});

insetChart('plot-d', xrdDAngle, xrdDIntensity, 1204, 1606, 1198);
insetChart('plot-f', xrdFAngle, xrdFIntensity, 2825, 3228, 2817);

profile('plot-c-profile', profileCPosition, profileCHeight, 244, 883, 1274, 1486);
profile('plot-e-profile', profileEPosition, profileEHeight, 1856, 2499, 1272, 1486);

// Crystal lattices
function bond(parent, x1, y1, x2, y2, width) {
  const mx = (x1 + x2) / 2, my = (y1 + y2) / 2;
  const grey = add(parent, 'line', {x1: x1, y1: y1, x2: mx, y2: my, stroke: '#a2a2a2', 'stroke-width': width});
  
  
  const yellow = add(parent, 'line', {x1: mx, y1: my, x2: x2, y2: y2, stroke: '#e8de00', 'stroke-width': width});
  
  
}
function atom(parent, kind, x, y, r) {
  const c = add(parent, 'circle', {cx: x, cy: y, r: r, fill: kind === 'pt' ? 'url(#pt-grad)' : 'url(#s-grad)'});
  
  
}
(function () {
  const g = document.getElementById('lattice-a');
  const offsets = [[-80, -46], [80, -46], [-80, 46], [80, 46], [0, -91], [0, 91]];
  const sulfur = {}, pts = [];
  for (let r = 0; r < 5; r++) {
    for (let c = 0; c < 5; c++) {
      const x = 545 + r * 80 + c * 159.3, y = 214 + r * 138.2;
      pts.push([x, y]);
      offsets.forEach(function (o) {
        const sx = x + o[0], sy = y + o[1];
        bond(g, x, y, sx, sy, 8);
        sulfur[Math.round(sx / 20) + '_' + Math.round(sy / 20)] = [sx, sy];
      });
    }
  }
  Object.keys(sulfur).forEach(function (k) { atom(g, 's', sulfur[k][0], sulfur[k][1], 18); });
  pts.forEach(function (p) { atom(g, 'pt', p[0], p[1], 23); });
})();
(function () {
  const g = document.getElementById('lattice-b');
  const step = 71.9;
  [167, 380, 593, 806].forEach(function (ly) {
    for (let i = 0; i < 13; i++) {
      const x = 2316 + i * step;
      for (let j = -1; j <= 1; j++) {
        bond(g, x, ly, x + j * step, ly - 52, 7);
        bond(g, x, ly, x + j * step, ly + 52, 7);
      }
    }
    for (let j = 0; j < 15; j++) {
      atom(g, 's', 2244 + j * step, ly - 52, 17);
      atom(g, 's', 2244 + j * step, ly + 52, 17);
    }
    for (let i = 0; i < 13; i++) {
      atom(g, 'pt', 2316 + i * step, ly, 22);
    }
  });
})();
</script>
</body>
</html>
